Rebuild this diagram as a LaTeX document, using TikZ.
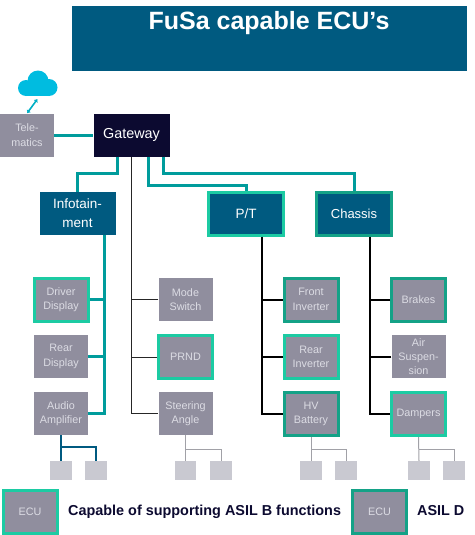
\documentclass[tikz,border=0pt]{standalone}
\usepackage{fontspec}
\setmainfont{Liberation Sans}
\usetikzlibrary{arrows.meta}
\definecolor{petrol}{HTML}{005A80}
\definecolor{nightblue}{HTML}{0C0A30}
\definecolor{ecugray}{HTML}{908E9E}
\definecolor{stubgray}{HTML}{C9C9D1}
\definecolor{busteal}{HTML}{009C9C}
\definecolor{asilb}{HTML}{1CCBA3}
\definecolor{asild}{HTML}{14A287}
\definecolor{skyblue}{HTML}{00BCE0}
\definecolor{labelgray}{HTML}{DCDCE4}
\tikzset{
    ecu/.style={fill=ecugray, text=labelgray, font=\fontsize{10.8}{14.5}\selectfont, align=center, inner sep=0pt, minimum width=54pt, minimum height=43pt},
    ecub/.style={ecu, draw=asilb, line width=3pt},
    ecud/.style={ecu, draw=asild, line width=3pt},
    busbox/.style={fill=petrol, text=white, font=\fontsize{13.5}{19}\selectfont, align=center, inner sep=0pt, minimum width=76pt, minimum height=43pt},
    stub/.style={fill=stubgray, inner sep=0pt, minimum width=21.5pt, minimum height=19pt},
    tealbus/.style={draw=busteal, line width=3pt},
    blackbus/.style={draw=black, line width=2pt},
    thinbus/.style={draw=black!85, line width=1pt},
    stubline/.style={draw=stubgray!80!black, line width=1pt},
    legendtext/.style={text=nightblue, font=\fontsize{14.4}{16}\selectfont\bfseries, inner sep=0pt}
}
\begin{document}
\begin{tikzpicture}[x=1pt, y=-1pt]
    \useasboundingbox (0,0) rectangle (474,535);
    % title
    \node[fill=petrol, minimum width=395pt, minimum height=64pt, inner sep=0pt] (banner) at (269.5,38.5) {};
    \node[text=white, font=\fontsize{25}{28}\selectfont\bfseries, inner sep=0pt] (title) at (269,23.5) {FuSa capable ECU’s};
    % cloud
    \fill[skyblue] (26,88) circle (8);
    \fill[skyblue] (49,87.5) circle (8.5);
    \fill[skyblue] (38,81) circle (10.5);
    \fill[skyblue] (26,85) rectangle (49,96);
    \coordinate (cloudbase) at (37.5,99);
    % top row
    \node[ecu] (telematics) at (27,135) {Tele-\\matics};
    \node[busbox, fill=nightblue, font=\fontsize{14.4}{18}\selectfont] (gateway) at (131.5,135) {Gateway};
    \node[busbox] (infotainment) at (77.5,213.5) {Infotain-\\ment};
    \node[busbox, draw=asilb, line width=3pt, minimum width=75pt] (pt) at (246,213.5) {P/T};
    \node[busbox, draw=asild, line width=3pt, minimum width=75pt, font=\fontsize{13}{16}\selectfont] (chassis) at (354,213.5) {Chassis};
    % ecu columns
    \node[ecub] (driver) at (61,299.5) {Driver\\Display};
    \node[ecu] (reardisp) at (61,356.5) {Rear\\Display};
    \node[ecu] (audio) at (61,413.5) {Audio\\Amplifier};
    \node[ecu] (mode) at (185.5,299.5) {Mode\\Switch};
    \node[ecub] (prnd) at (185.5,357) {PRND};
    \node[ecu] (steering) at (185.5,413.5) {Steering\\Angle};
    \node[ecud] (front) at (311,299.5) {Front\\Inverter};
    \node[ecub] (rearinv) at (311,357) {Rear\\Inverter};
    \node[ecud] (hv) at (311,414) {HV\\Battery};
    \node[ecud] (brakes) at (418.5,299.5) {Brakes};
    \node[ecu, font=\fontsize{10.8}{13.7}\selectfont] (air) at (418.5,356.5) {Air\\Suspen-\\sion};
    \node[ecub] (dampers) at (418.5,414) {Dampers};
    % small boxes below
    \foreach \name/\i/\j in {audio/61/96, steering/185.5/221, hv/311/346, dampers/419/454} {
        \node[stub] (\name L) at (\i,470.5) {};
        \node[stub] (\name R) at (\j,470.5) {};
    }
    % legend
    \node[ecub] (legendb) at (30,512) {ECU};
    \node[legendtext, anchor=west] (legendbtext) at (68,512) {Capable of supporting ASIL B functions};
    \node[ecud] (legendd) at (379.5,512) {ECU};
    \node[legendtext, anchor=west] (legenddtext) at (417,511) {ASIL D};
    % trunks
    \coordinate (infotrunk) at ([xshift=26.5pt]infotainment.south);
    \coordinate (pttrunk) at ([xshift=16pt]pt.south);
    \coordinate (chassistrunk) at ([xshift=16pt]chassis.south);
    % connectors
    \draw[{Latex[length=3pt,width=5pt]}-{Latex[length=3pt,width=5pt]}, draw=skyblue!60!busteal, line width=1.6pt] (telematics.north) -- (cloudbase);
    \draw[tealbus] (telematics) -- (gateway);
    \draw[tealbus] ([xshift=-14.5pt]gateway.south) -- ++(0,16.5) -| (infotainment.north);
    \draw[tealbus] ([xshift=16.5pt]gateway.south) |- (185,185) -| (pt.north);
    \draw[tealbus] ([xshift=32pt]gateway.south) |- (250,173) -| (chassis.north);
    \draw[tealbus] (infotrunk) |- (audio.east);
    \foreach \ecuname in {driver,reardisp} {
        \draw[tealbus] (\ecuname.east) -- (\ecuname.east -| infotrunk);
    }
    \draw[thinbus] (gateway.south) |- (steering.west);
    \foreach \ecuname in {mode,prnd} {
        \draw[thinbus] (\ecuname.west) -- (\ecuname.west -| gateway.south);
    }
    \draw[blackbus] (pttrunk) |- (hv.west);
    \foreach \ecuname in {front,rearinv} {
        \draw[blackbus] (\ecuname.west) -- (\ecuname.west -| pttrunk);
    }
    \draw[blackbus] (chassistrunk) |- (dampers.west);
    \foreach \ecuname in {brakes,air} {
        \draw[blackbus] (\ecuname.west) -- (\ecuname.west -| chassistrunk);
    }
    \draw[draw=petrol, line width=2pt] (audio.south) -- (audioL.north);
    \draw[draw=petrol, line width=2pt] (61,447) -| (audioR.north);
    \foreach \name/\i in {steering/185.5, hv/311, dampers/418.5} {
        \draw[stubline] (\name.south) -- (\name L.north);
        \draw[stubline] (\i,449.5) -| (\name R.north);
    }
\end{tikzpicture}
\end{document}
